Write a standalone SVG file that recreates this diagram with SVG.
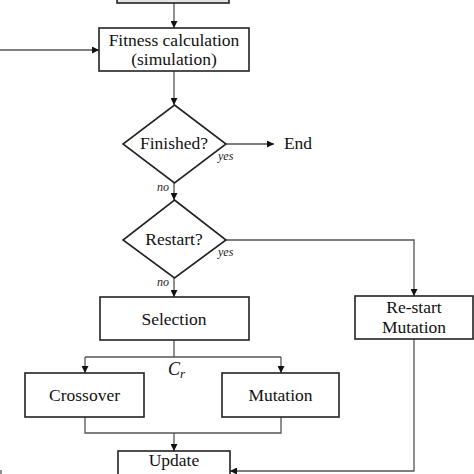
<svg xmlns="http://www.w3.org/2000/svg" width="474" height="474" viewBox="0 0 474 474">
<style>
.box{fill:#fff;stroke:#222;stroke-width:1.6}
.con{fill:none;stroke:#555;stroke-width:1.3}
.t{font-family:"Liberation Serif","Times New Roman",serif;font-size:17.5px;fill:#111;text-anchor:middle}
.s{font-family:"Liberation Serif","Times New Roman",serif;font-size:12px;font-style:italic;fill:#222}
</style>
<defs>
<marker id="ah" viewBox="0 0 10 10" refX="10" refY="5" markerWidth="7" markerHeight="7" markerUnits="userSpaceOnUse" orient="auto">
<path d="M0,0 L10,5 L0,10 Z" fill="#111"/>
</marker>
</defs>
<rect width="474" height="474" fill="#fff"/>
<g id="connectors">
<path class="con" d="M174,3 V28" marker-end="url(#ah)"/>
<path class="con" d="M0,50 H99" marker-end="url(#ah)"/>
<path class="con" d="M174,71 V105" marker-end="url(#ah)"/>
<path class="con" d="M226,144 H274" marker-end="url(#ah)"/>
<path class="con" d="M174,183 V200" marker-end="url(#ah)"/>
<path class="con" d="M226,240 H414 V296" marker-end="url(#ah)"/>
<path class="con" d="M174,278 V297" marker-end="url(#ah)"/>
<path class="con" d="M174,340 V357"/>
<path class="con" d="M85,357 H281"/>
<path class="con" d="M85,357 V373" marker-end="url(#ah)"/>
<path class="con" d="M281,357 V373" marker-end="url(#ah)"/>
<path class="con" d="M85,417 V433 H281 V417"/>
<path class="con" d="M174,433 V451" marker-end="url(#ah)"/>
<path class="con" d="M414,339 V471 H230" marker-end="url(#ah)"/>
<path class="con" d="M1,470 V474"/>
<text class="s" x="218" y="160">yes</text>
<text class="s" x="157" y="191">no</text>
<text class="s" x="218" y="256">yes</text>
<text class="s" x="157" y="286">no</text>
<text x="168" y="375" font-family="Liberation Serif,serif" font-size="18" font-style="italic" fill="#111">C<tspan font-size="13" dy="3">r</tspan></text>
</g>
<g id="init">
<rect x="117" y="-20" width="112" height="23" fill="#e4e4e4" stroke="#222" stroke-width="1.6"/>
</g>
<g id="fitness">
<rect class="box" x="99" y="28" width="150" height="43"/>
<text class="t" x="174" y="46">Fitness calculation</text>
<text class="t" x="174" y="65">(simulation)</text>
</g>
<g id="finished">
<polygon class="box" points="174.5,105 226,144 174.5,183 123,144"/>
<text class="t" x="174" y="149">Finished?</text>
</g>
<g id="end">
<text class="t" x="298" y="149">End</text>
</g>
<g id="restart">
<polygon class="box" points="174.5,200 226,240 174.5,278 123,240"/>
<text class="t" x="174" y="245">Restart?</text>
</g>
<g id="selection">
<rect class="box" x="100" y="297" width="149" height="43"/>
<text class="t" x="174" y="325">Selection</text>
</g>
<g id="restartmutation">
<rect class="box" x="355" y="296" width="118" height="43"/>
<text class="t" x="414" y="313">Re-start</text>
<text class="t" x="414" y="333">Mutation</text>
</g>
<g id="crossover">
<rect class="box" x="25" y="373" width="119" height="44"/>
<text class="t" x="84.5" y="401">Crossover</text>
</g>
<g id="mutation">
<rect class="box" x="222" y="373" width="117" height="44"/>
<text class="t" x="280.5" y="401">Mutation</text>
</g>
<g id="update">
<rect class="box" x="118" y="451" width="112" height="40"/>
<text class="t" x="174" y="466">Update</text>
</g>
</svg>
